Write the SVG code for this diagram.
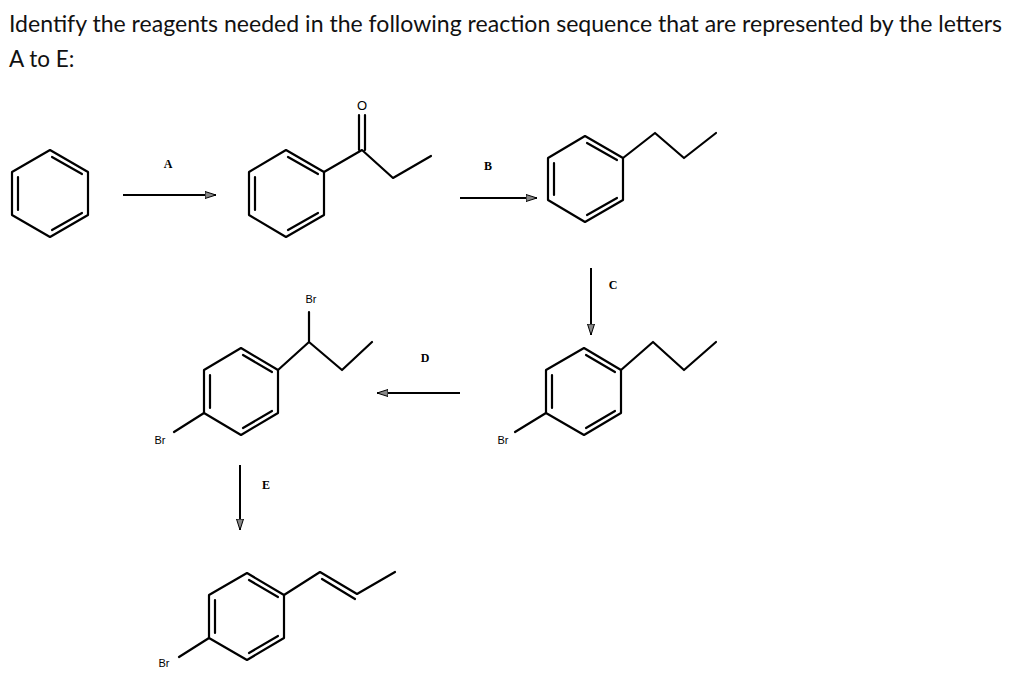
<svg xmlns="http://www.w3.org/2000/svg" width="1024" height="682" viewBox="0 0 1024 682">
<style>
.b{stroke:#000;stroke-width:2.2;fill:none;stroke-linejoin:round;stroke-linecap:round}
.t{font-family:Lato,"Open Sans",sans-serif;font-size:22.5px;fill:#111}
.l{font-family:"Liberation Serif",serif;font-size:12px;font-weight:bold;fill:#000;text-anchor:middle}
.br{font-family:"Liberation Sans",sans-serif;font-size:11px;fill:#000;text-anchor:middle}
.a{stroke:#000;stroke-width:2;fill:none}
</style>
<defs>
<marker id="h" markerWidth="12" markerHeight="8" refX="11" refY="4" orient="auto" markerUnits="userSpaceOnUse">
<path d="M0,0.5 L11,4 L0,7.5 Z" fill="#888" stroke="#000" stroke-width="1"/>
</marker>
</defs>
<rect width="1024" height="682" fill="#fff"/>
<text class="t" x="9" y="32" textLength="993" lengthAdjust="spacingAndGlyphs">Identify the reagents needed in the following reaction sequence that are represented by the letters</text>
<text class="t" x="9" y="67">A to E:</text>
<g id="benzene">
<path class="b" d="M50,150 L88,172 L88,215 L50,237 L12,215 L12,172 Z"/>
<path class="b" d="M52,157 L82,174 M82,213 L52,230 M18,177 L18,210"/>
</g>
<g id="propiophenone">
<path class="b" d="M286,150 L324,172 L324,215 L286,237 L249,215 L249,172 Z"/>
<path class="b" d="M288,157 L318,174 M318,213 L288,230 M255,177 L255,210"/>
<path class="b" d="M324,172 L362,150 L393,178 L431,156 M359,150 L359,115 M365,150 L365,115"/>
<text class="br" x="362" y="110" style="font-size:13px">O</text>
</g>
<g id="propylbenzene">
<path class="b" d="M585,136 L623,158 L623,200 L585,222 L548,200 L548,158 Z"/>
<path class="b" d="M587,143 L617,160 M617,198 L587,215 M554,163 L554,195"/>
<path class="b" d="M623,158 L655,133 L684,158 L716,133"/>
</g>
<g id="bromopropyl">
<path class="b" d="M584,348 L621,370 L621,413 L584,435 L546,413 L546,370 Z"/>
<path class="b" d="M586,355 L615,372 M615,411 L586,428 M552,375 L552,408"/>
<path class="b" d="M621,370 L653,342 L684,370 L716,342 M546,413 L515,432"/>
<text class="br" x="503" y="444">Br</text>
</g>
<g id="dibromo">
<path class="b" d="M241,348 L278,370 L278,413 L241,435 L204,413 L204,370 Z"/>
<path class="b" d="M243,355 L272,372 M272,411 L243,428 M210,375 L210,408"/>
<path class="b" d="M278,370 L309,342 L342,370 L372,342 M309,342 L309,312 M204,413 L174,432"/>
<text class="br" x="311" y="303">Br</text>
<text class="br" x="160" y="444">Br</text>
</g>
<g id="alkene">
<path class="b" d="M247,573 L284,595 L284,638 L247,660 L209,638 L209,595 Z"/>
<path class="b" d="M249,580 L278,597 M278,636 L249,653 M215,600 L215,633"/>
<path class="b" d="M284,595 L320,572 L357,594 L395,572 M322,579 L355,599 M209,638 L179,657"/>
<text class="br" x="164" y="667">Br</text>
</g>
<g id="connectors">
<line class="a" x1="123" y1="195" x2="216" y2="195" marker-end="url(#h)"/>
<line class="a" x1="460" y1="198" x2="537" y2="198" marker-end="url(#h)"/>
<line class="a" x1="591" y1="268" x2="591" y2="335" marker-end="url(#h)"/>
<line class="a" x1="460" y1="393" x2="377" y2="393" marker-end="url(#h)"/>
<line class="a" x1="240" y1="465" x2="240" y2="530" marker-end="url(#h)"/>
</g>
<g id="labels">
<text class="l" x="168" y="168">A</text>
<text class="l" x="488" y="170">B</text>
<text class="l" x="613" y="289">C</text>
<text class="l" x="425" y="362">D</text>
<text class="l" x="266" y="489">E</text>
</g>
</svg>
